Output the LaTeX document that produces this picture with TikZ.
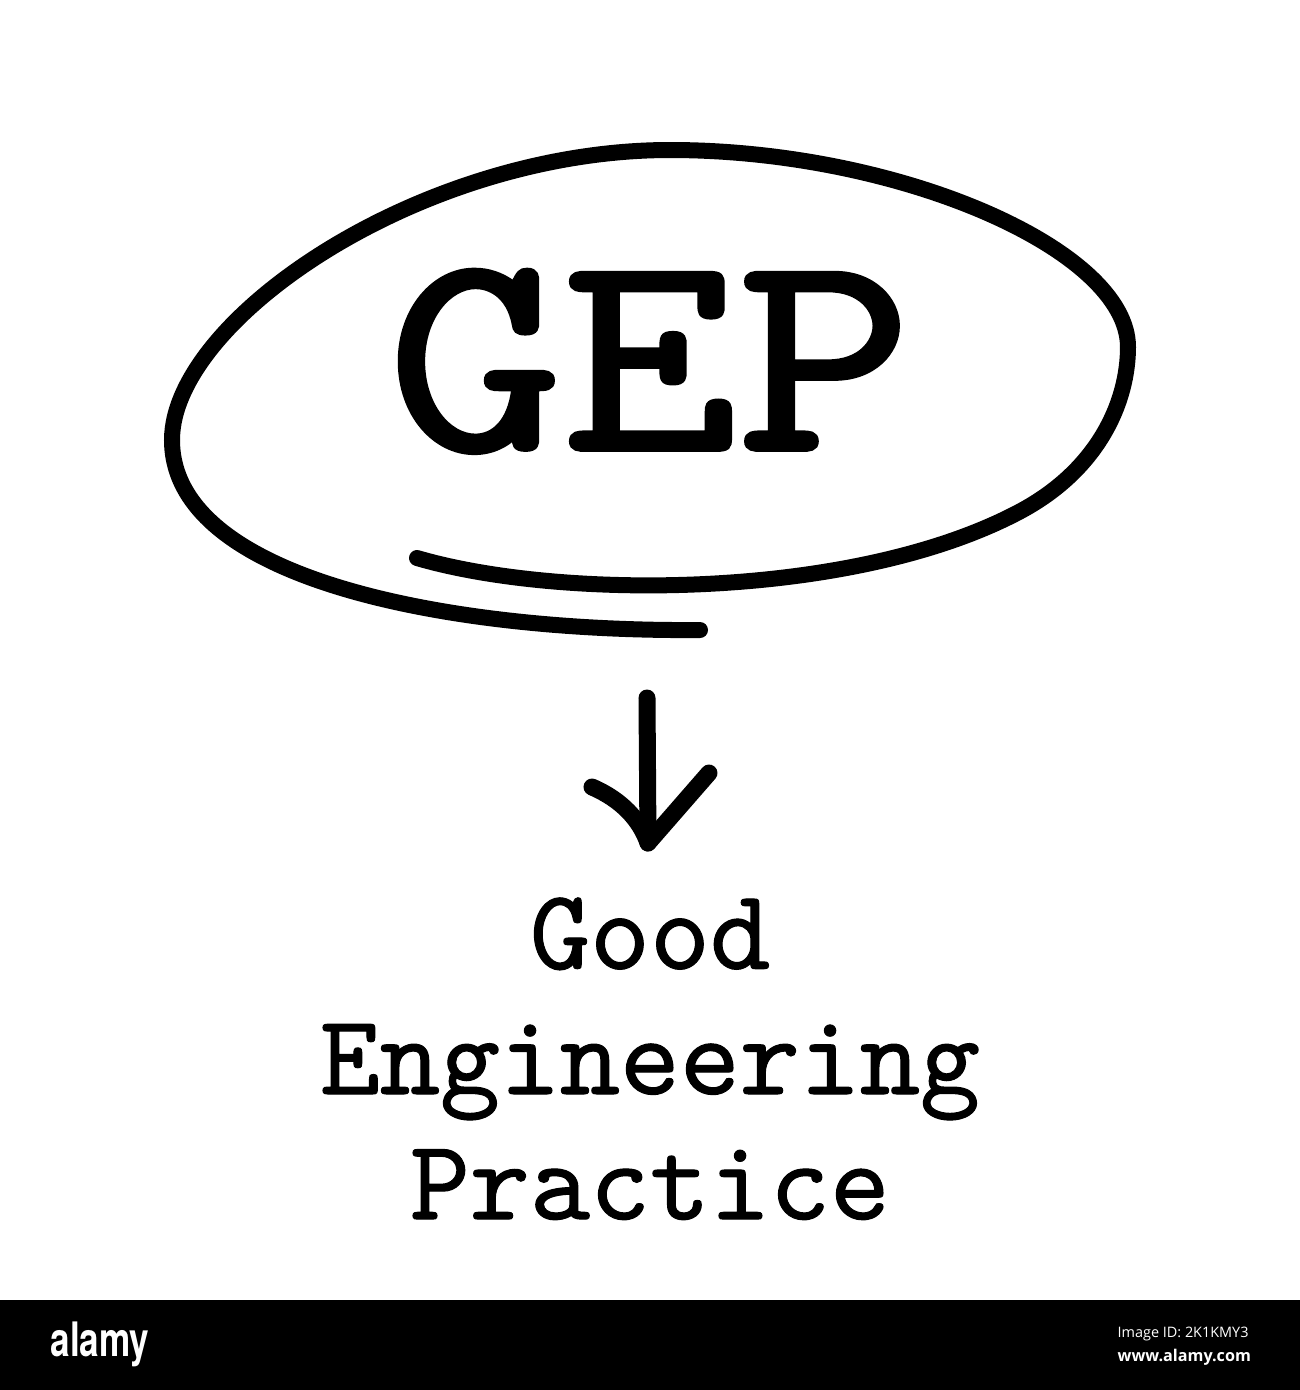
\documentclass[tikz,border=0pt]{standalone}
\usepackage{fontspec}
\newfontfamily\logofont{TeX Gyre Heros}
\newfontfamily\idfont{Open Sans}
\newfontfamily\gepfont[FakeBold=1.3]{lmmono10-regular.otf}
\newfontfamily\linefont[FakeBold=0.9]{lmmono10-regular.otf}
\begin{document}
\begin{tikzpicture}[x=0.01cm,y=-0.01cm,
  pen/.style={line width=0.16cm, line cap=round, line join=round, draw=black},
  wtext/.style={anchor=base west, inner sep=0pt, text=white}]
\useasboundingbox (0,0) rectangle (1300,1390);
\fill[white] (0,0) rectangle (1300,1390);
% hand-drawn loop around GEP
\draw[pen] (417,558) .. controls (560,600) and (850,600) .. (1017,513)
  .. controls (1100,470) and (1128,400) .. (1128,347)
  .. controls (1128,250) and (900,150) .. (670,150)
  .. controls (420,150) and (172,320) .. (172,440)
  .. controls (172,580) and (450,632) .. (700,630);
\node[anchor=base, inner sep=0pt, xscale=1.15,
  font=\gepfont\fontsize{82.5pt}{90pt}\selectfont] (gep) at (650,450) {GEP};
% arrow
\coordinate (atop) at (647,698);
\coordinate (atip) at (648,843);
\coordinate (lbarb) at (592,787);
\coordinate (rbarb) at (709,773);
\draw[pen, line width=0.17cm] (atop) -- (atip);
\draw[pen, line width=0.17cm] (lbarb) .. controls (622,800) and (640,820) .. (atip) -- (rbarb);
\node[anchor=north, inner sep=0pt, align=center,
  font=\linefont\fontsize{32.5pt}{35.6pt}\selectfont] (meaning) at (650,897)
  {Good\\Engineering\\Practice};
% bottom bar
\fill[black] (0,1300) rectangle (1300,1390);
\node[wtext, xscale=0.74, font=\logofont\bfseries\fontsize{13.5pt}{14pt}\selectfont] (logo) at (50,1356) {alamy};
\node[wtext, font=\idfont\fontsize{4.1pt}{5pt}\selectfont] (imgid) at (1117,1337) {Image ID: 2K1KMY3};
\node[wtext, font=\idfont\bfseries\fontsize{4.6pt}{5pt}\selectfont] (site) at (1117,1361) {www.alamy.com};
\end{tikzpicture}
\end{document}
